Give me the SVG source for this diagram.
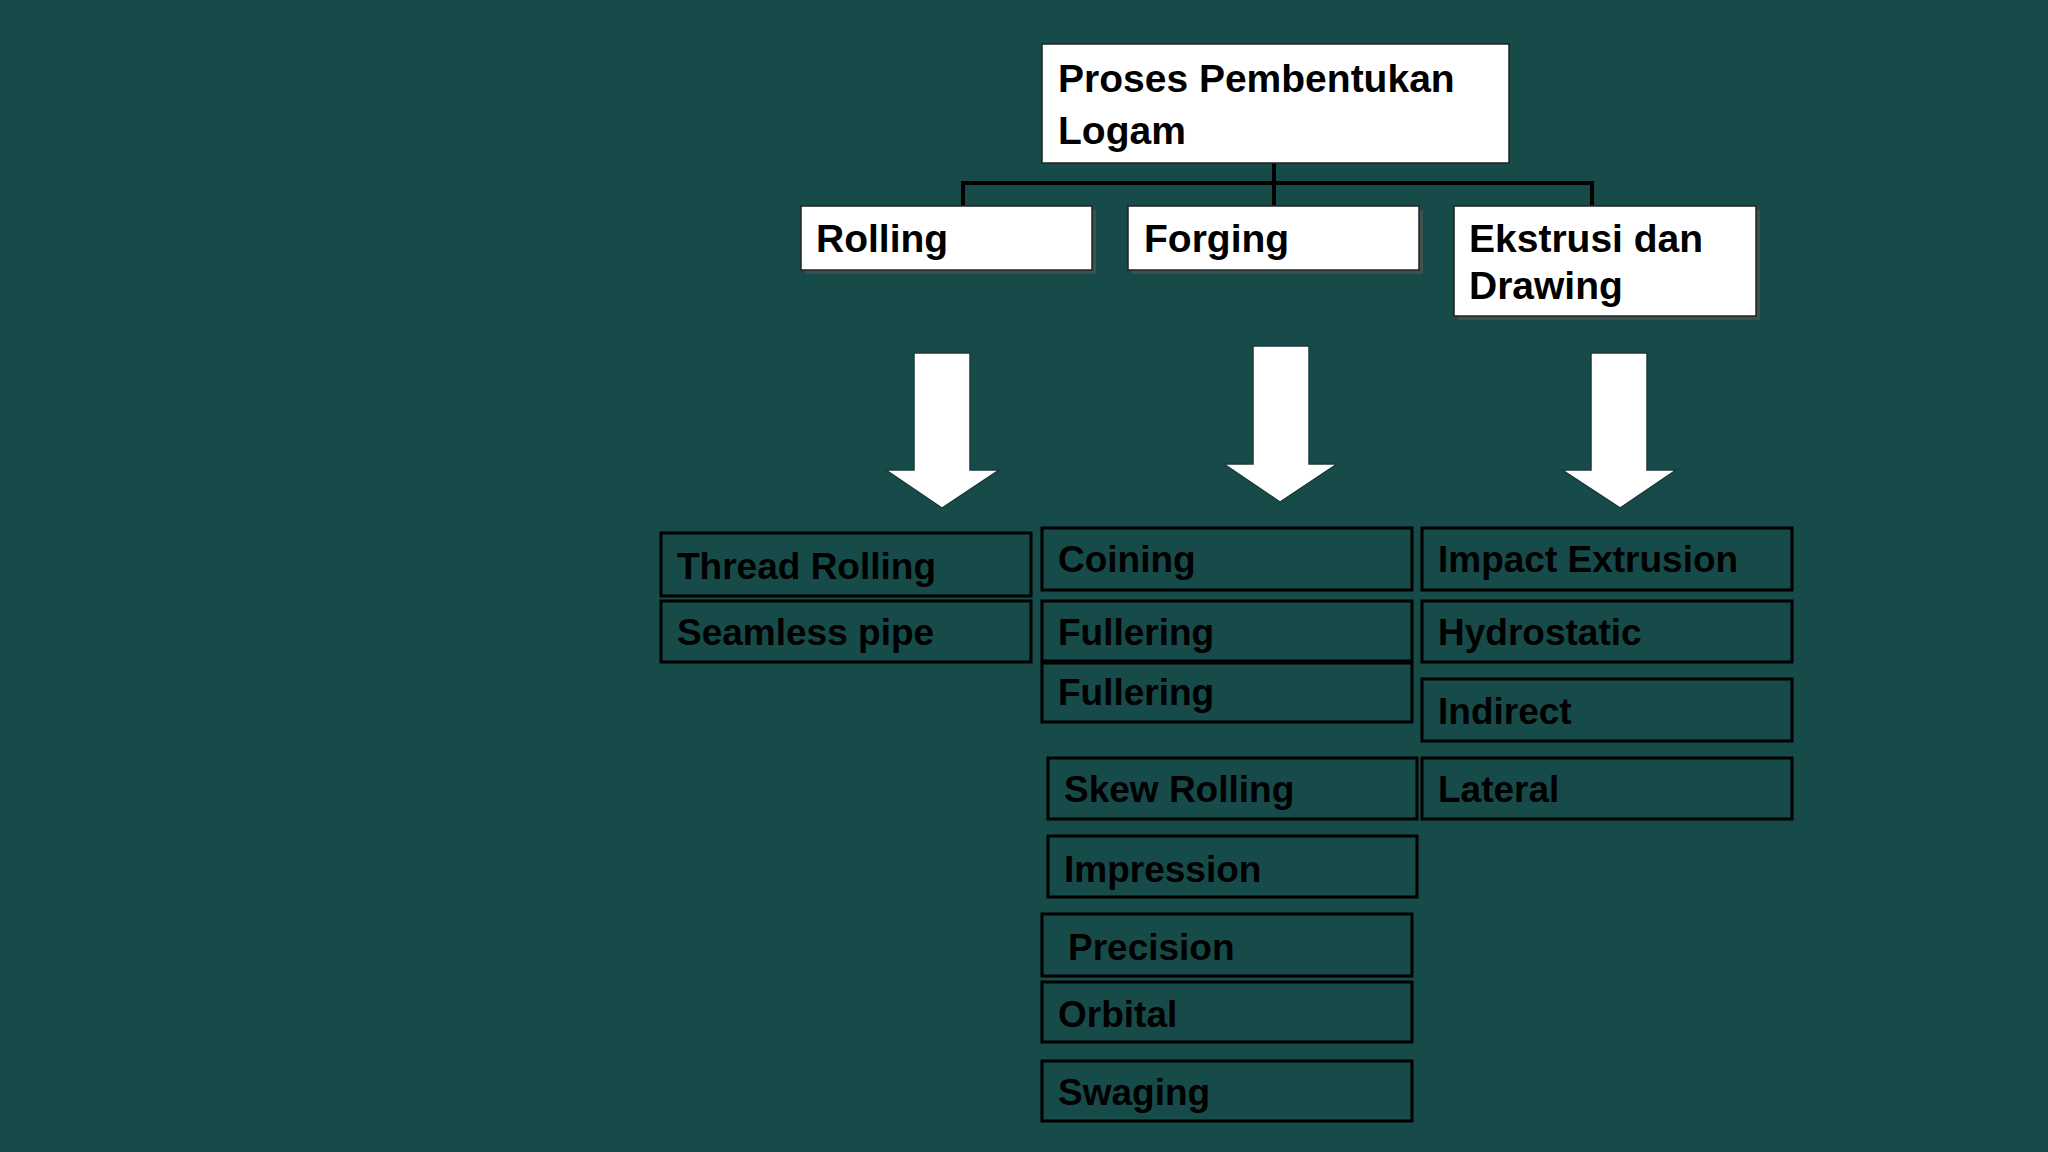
<svg xmlns="http://www.w3.org/2000/svg" width="2048" height="1152" viewBox="0 0 2048 1152">
<style>
.hd{fill:#fff;stroke:#222;stroke-width:1.5}
.sh{fill:#555;opacity:.6}
.ht{font-family:"Liberation Sans Narrow","Liberation Sans",sans-serif;font-weight:bold;font-size:39px;fill:#000}
.bx{fill:none;stroke:#000;stroke-width:3}
.bt{font-family:"Liberation Sans",Arial,sans-serif;font-weight:bold;font-size:37px;fill:#000}
.ar{fill:#fff;stroke:#1a3b3a;stroke-width:1.5}
.cn{fill:none;stroke:#000;stroke-width:4}
</style>
<rect width="2048" height="1152" fill="#174b49"/>
<g id="connectors">
<path class="cn" d="M1274 159V205M963 205V183H1592V205"/>
<polygon class="ar" points="914,353 970,353 970,470 999,470 942,508 886,470 914,470"/>
<polygon class="ar" points="1253,346 1309,346 1309,464 1337,464 1280,502 1224,464 1253,464"/>
<polygon class="ar" points="1591,353 1647,353 1647,470 1676,470 1620,508 1562,470 1591,470"/>
</g>
<g id="root"><rect class="hd" x="1042" y="44" width="467" height="119"/><text class="ht" x="1058" y="92">Proses Pembentukan</text><text class="ht" x="1058" y="144">Logam</text></g>
<g id="rolling"><rect class="sh" x="805" y="210" width="291" height="64"/><rect class="hd" x="801" y="206" width="291" height="64"/><text class="ht" x="816" y="252">Rolling</text></g>
<g id="forging"><rect class="sh" x="1132" y="210" width="291" height="64"/><rect class="hd" x="1128" y="206" width="291" height="64"/><text class="ht" x="1144" y="252">Forging</text></g>
<g id="ekstrusi"><rect class="sh" x="1458" y="210" width="302" height="110"/><rect class="hd" x="1454" y="206" width="302" height="110"/><text class="ht" x="1469" y="252">Ekstrusi dan</text><text class="ht" x="1469" y="299">Drawing</text></g>
<g id="thread"><rect class="bx" x="661" y="533" width="370" height="63"/><text class="bt" x="677" y="579">Thread Rolling</text></g>
<g id="seamless"><rect class="bx" x="661" y="601" width="370" height="61"/><text class="bt" x="677" y="645">Seamless pipe</text></g>
<g id="coining"><rect class="bx" x="1042" y="528" width="370" height="62"/><text class="bt" x="1058" y="572">Coining</text></g>
<g id="fullering1"><rect class="bx" x="1042" y="601" width="370" height="60"/><text class="bt" x="1058" y="645">Fullering</text></g>
<g id="fullering2"><rect class="bx" x="1042" y="663" width="370" height="59"/><text class="bt" x="1058" y="705">Fullering</text></g>
<g id="skew"><rect class="bx" x="1048" y="758" width="369" height="61"/><text class="bt" x="1064" y="802">Skew Rolling</text></g>
<g id="impression"><rect class="bx" x="1048" y="836" width="369" height="61"/><text class="bt" x="1064" y="882">Impression</text></g>
<g id="precision"><rect class="bx" x="1042" y="914" width="370" height="62"/><text class="bt" x="1068" y="960">Precision</text></g>
<g id="orbital"><rect class="bx" x="1042" y="982" width="370" height="60"/><text class="bt" x="1058" y="1027">Orbital</text></g>
<g id="swaging"><rect class="bx" x="1042" y="1061" width="370" height="60"/><text class="bt" x="1058" y="1105">Swaging</text></g>
<g id="impact"><rect class="bx" x="1422" y="528" width="370" height="62"/><text class="bt" x="1438" y="572">Impact Extrusion</text></g>
<g id="hydro"><rect class="bx" x="1422" y="601" width="370" height="61"/><text class="bt" x="1438" y="645">Hydrostatic</text></g>
<g id="indirect"><rect class="bx" x="1422" y="679" width="370" height="62"/><text class="bt" x="1438" y="724">Indirect</text></g>
<g id="lateral"><rect class="bx" x="1422" y="758" width="370" height="61"/><text class="bt" x="1438" y="802">Lateral</text></g>
</svg>
